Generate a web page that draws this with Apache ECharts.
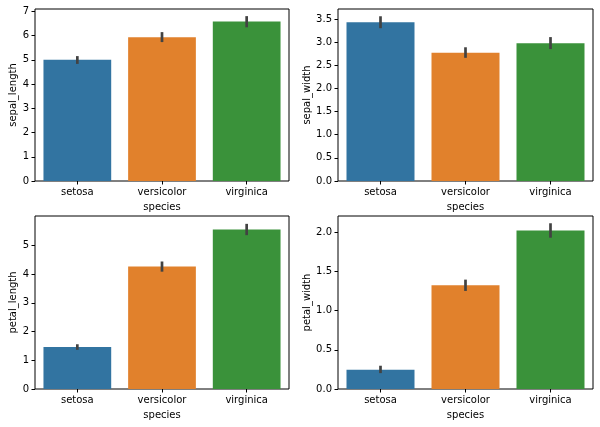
<!DOCTYPE html>
<html><head><meta charset="utf-8">
<script src="https://cdn.jsdelivr.net/npm/echarts@6/dist/echarts.min.js"></script>
<style>html,body{margin:0;padding:0;background:#fff}#c{width:600px;height:427px}</style>
</head><body><div id="c"></div>
<script>
const species = ['setosa', 'versicolor', 'virginica'];
const colors = ['#3274a1', '#e1812c', '#3a923a'];

const sepalLength = [5.006, 5.936, 6.588];
const sepalLengthLo = [4.89, 5.79, 6.40];
const sepalLengthHi = [5.10, 6.09, 6.75];

const sepalWidth = [3.428, 2.770, 2.974];
const sepalWidthLo = [3.33, 2.69, 2.88];
const sepalWidthHi = [3.53, 2.86, 3.08];

const petalLength = [1.462, 4.260, 5.552];
const petalLengthLo = [1.41, 4.13, 5.40];
const petalLengthHi = [1.51, 4.39, 5.70];

const petalWidth = [0.246, 1.326, 2.026];
const petalWidthLo = [0.22, 1.27, 1.95];
const petalWidthHi = [0.28, 1.38, 2.10];

const ticksSL = [0, 1, 2, 3, 4, 5, 6, 7];
const ticksSW = [0, 0.5, 1.0, 1.5, 2.0, 2.5, 3.0, 3.5];
const ticksPL = [0, 1, 2, 3, 4, 5];
const ticksPW = [0, 0.5, 1.0, 1.5, 2.0];

const panels = [
  {name: 'sepal_length', vals: sepalLength, lo: sepalLengthLo, hi: sepalLengthHi, ticks: ticksSL, max: 7.1, dec: 0,
   grid: {left: 35, top: 9, width: 254, height: 172}, gap: 17},
  {name: 'sepal_width', vals: sepalWidth, lo: sepalWidthLo, hi: sepalWidthHi, ticks: ticksSW, max: 3.716, dec: 1,
   grid: {left: 338, top: 9, width: 255, height: 172}, gap: 26},
  {name: 'petal_length', vals: petalLength, lo: petalLengthLo, hi: petalLengthHi, ticks: ticksPL, max: 6.02, dec: 0,
   grid: {left: 35, top: 216, width: 254, height: 173}, gap: 17},
  {name: 'petal_width', vals: petalWidth, lo: petalWidthLo, hi: petalWidthHi, ticks: ticksPW, max: 2.21, dec: 1,
   grid: {left: 338, top: 216, width: 255, height: 173}, gap: 26}
];

const font = 'DejaVu Sans';
const grids = [], xAxes = [], yAxes = [], series = [];
panels.forEach((p, i) => {
  grids.push(Object.assign({show: true, borderColor: '#000', borderWidth: 1, backgroundColor: '#fff'}, p.grid));
  xAxes.push({
    type: 'category', gridIndex: i, data: species,
    name: 'species', nameLocation: 'middle', nameGap: 21,
    nameTextStyle: {fontFamily: font, fontSize: 10, color: '#000'},
    axisLine: {show: false},
    axisTick: {show: true, alignWithLabel: true, length: 3.5, lineStyle: {color: '#000'}},
    axisLabel: {fontFamily: font, fontSize: 10, color: '#000', margin: 6},
    splitLine: {show: false}
  });
  yAxes.push({
    type: 'value', gridIndex: i, min: 0, max: p.max,
    name: p.name, nameLocation: 'middle', nameRotate: 90, nameGap: p.gap,
    nameTextStyle: {fontFamily: font, fontSize: 10, color: '#000'},
    axisLine: {show: false},
    axisTick: {show: true, length: 3.5, lineStyle: {color: '#000'}, customValues: p.ticks},
    axisLabel: {fontFamily: font, fontSize: 10, color: '#000', margin: 6, customValues: p.ticks,
      formatter: v => Number(v).toFixed(p.dec)},
    splitLine: {show: false}
  });
  series.push({
    type: 'bar', xAxisIndex: i, yAxisIndex: i, barWidth: '80%',
    data: p.vals.map((v, k) => ({value: v, itemStyle: {color: colors[k]}})),
    silent: true
  });
  series.push({
    type: 'custom', xAxisIndex: i, yAxisIndex: i, silent: true, z: 5,
    data: p.lo.map((l, k) => [k, l, p.hi[k]]),
    encode: {x: 0, y: [1, 2]},
    renderItem: (params, api) => {
      const a = api.coord([api.value(0), api.value(1)]);
      const b = api.coord([api.value(0), api.value(2)]);
      return {type: 'line', shape: {x1: a[0], y1: a[1], x2: b[0], y2: b[1]},
        style: {stroke: '#424242', lineWidth: 2.7, lineCap: 'square'}};
    }
  });
});

const chart = echarts.init(document.getElementById('c'), null, {renderer: 'canvas'});
chart.setOption({backgroundColor: '#fff', animation: false, grid: grids, xAxis: xAxes, yAxis: yAxes, series: series});
</script></body></html>
